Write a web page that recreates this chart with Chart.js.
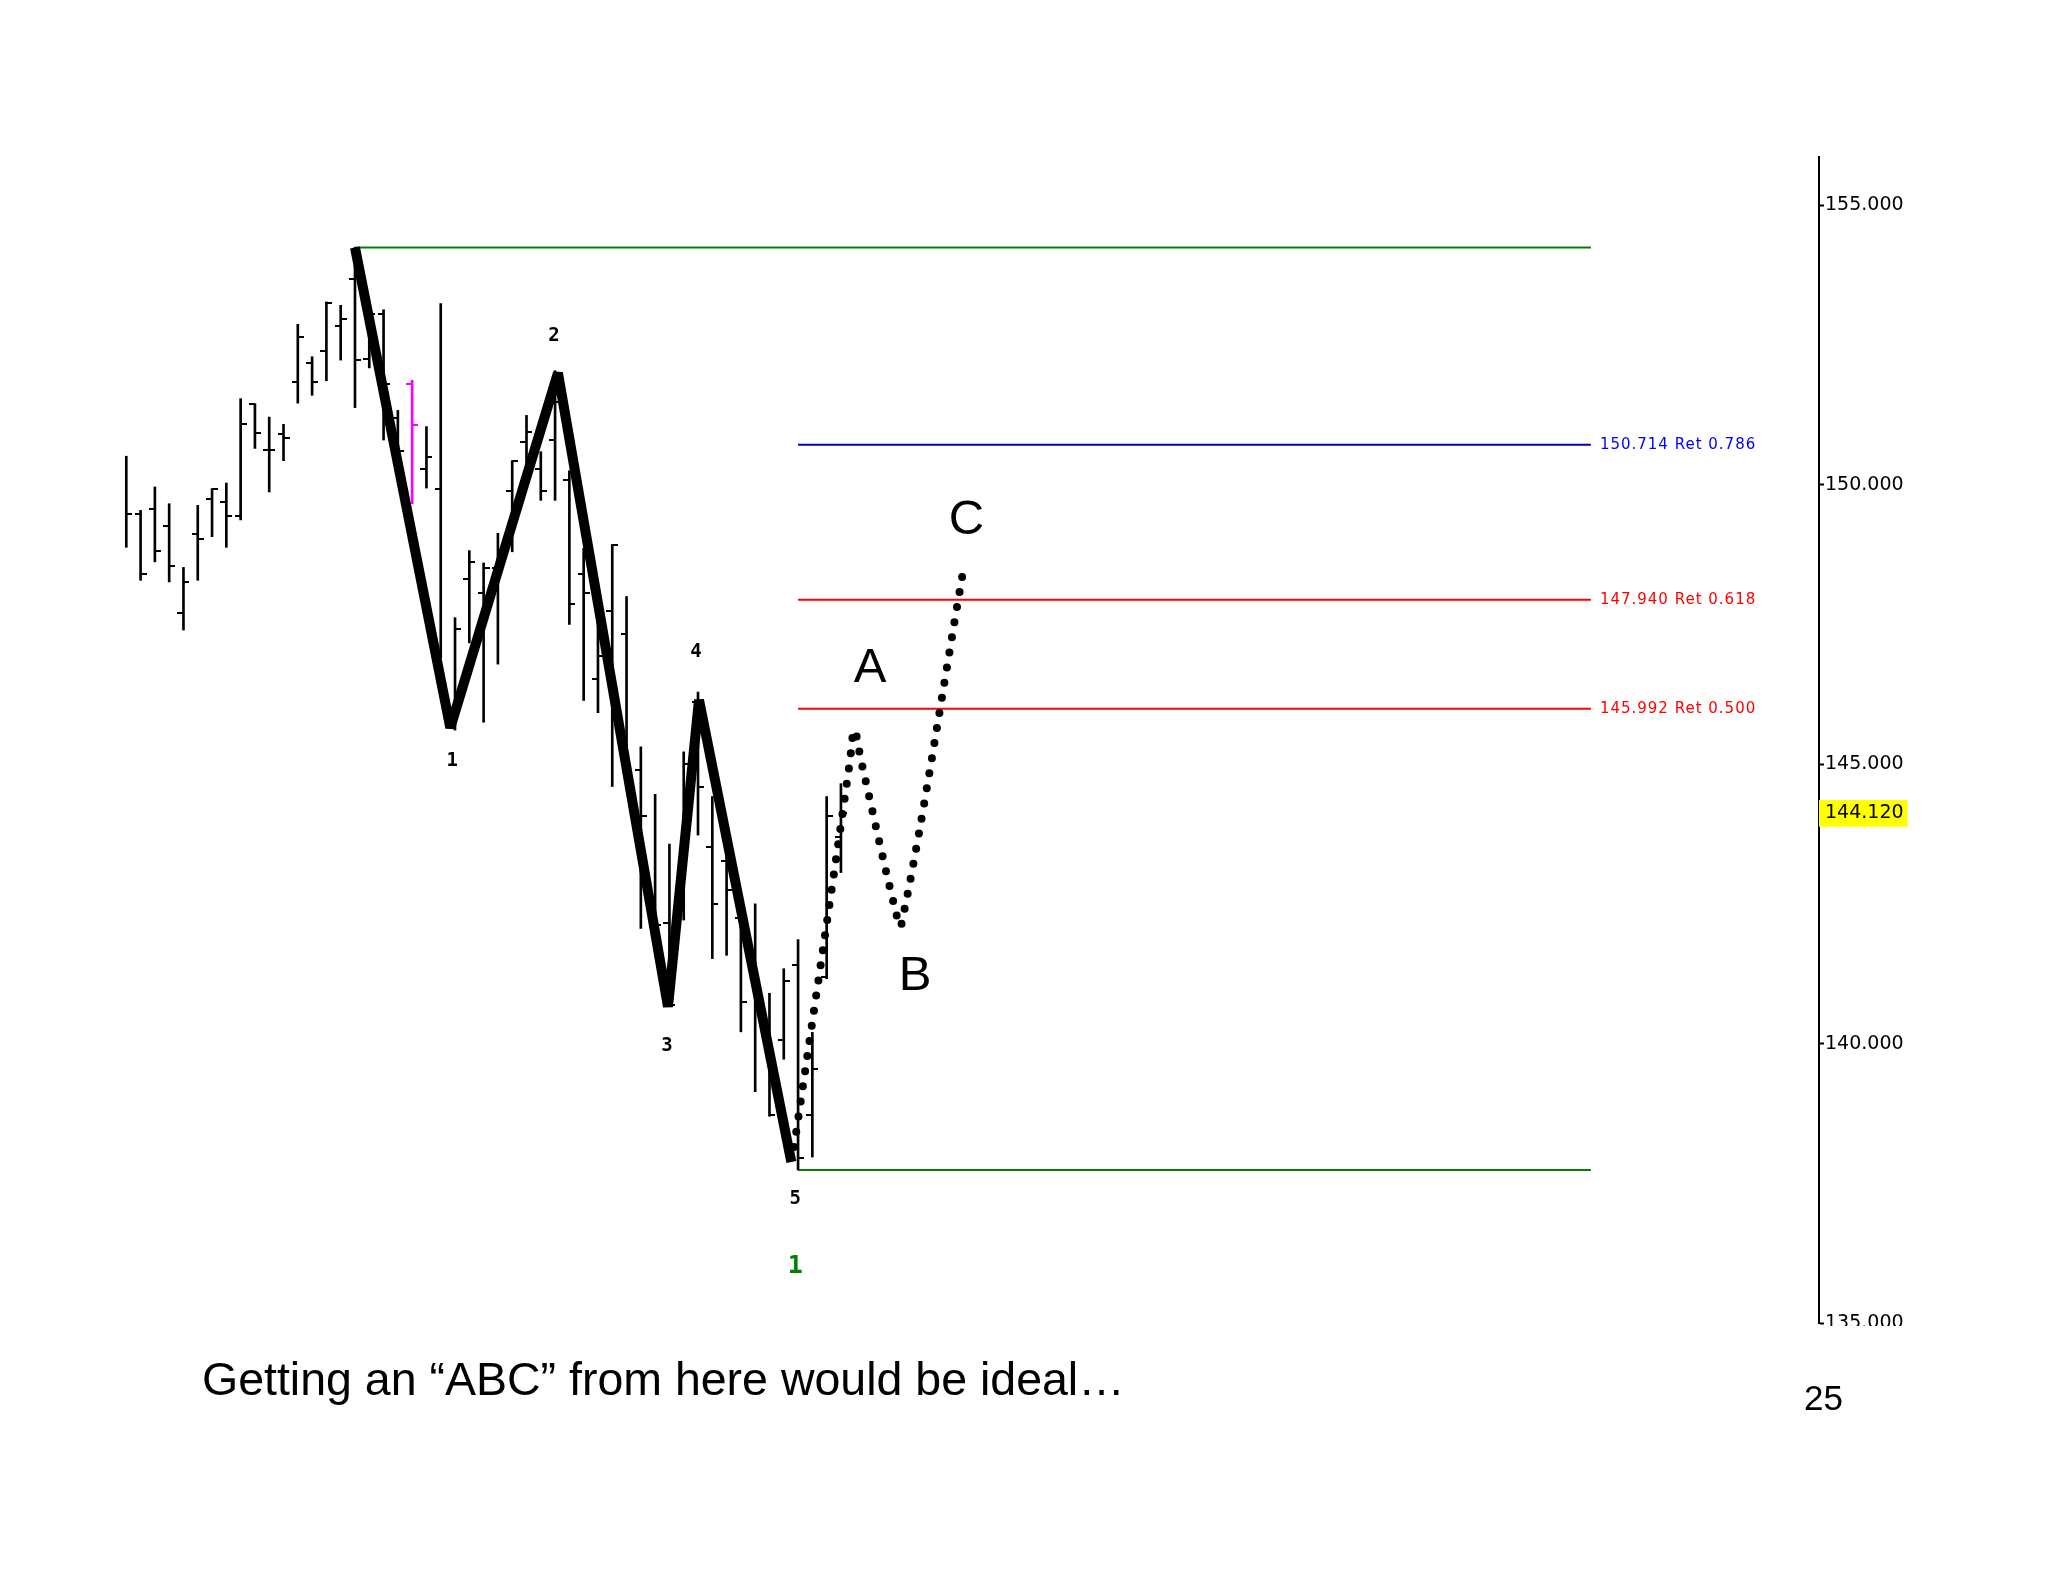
<!DOCTYPE html>
<html>
<head>
<meta charset="utf-8">
<script src="https://cdn.jsdelivr.net/npm/chart.js@4.4.0/dist/chart.umd.min.js"></script>
<style>
html,body{margin:0;padding:0;background:#ffffff;}
#wrap{position:relative;width:2048px;height:1582px;overflow:hidden;}
#c{position:absolute;left:0;top:0;}
#caption{position:absolute;left:202px;top:1356px;font-family:"Liberation Sans",Arial,sans-serif;font-size:46.5px;line-height:46px;color:#000;white-space:nowrap;}
#pageno{position:absolute;left:1804px;top:1380px;font-family:"Liberation Sans",Arial,sans-serif;font-size:35px;line-height:35px;color:#000;}
</style>
</head>
<body>
<div id="wrap">
<canvas id="c" width="2048" height="1582"></canvas>
<div id="caption">Getting an “ABC” from here would be ideal…</div>
<div id="pageno">25</div>
</div>
<script>
// ---- data ----
const highs  = [150.51,149.54,149.96,149.66,148.52,149.63,149.93,150.03,151.54,151.45,151.21,
                151.08,152.87,152.29,153.27,153.21,154.246,153.09,153.13,151.33,151.87,
                151.04,153.24,147.62,148.82,148.60,149.13,150.43,151.24,150.59,152.04,
                150.25,148.86,147.90,148.93,148.00,145.31,144.46,143.57,145.22,146.29,
                144.42,143.46,142.60,142.50,140.90,141.34,141.86,140.20,144.42,144.65];
const lows   = [148.88,148.29,148.62,148.26,147.40,148.29,149.07,148.88,149.37,150.65,149.87,
                150.43,151.46,151.60,151.86,152.23,151.38,152.09,150.80,150.45,149.66,
                149.94,146.90,145.61,147.17,145.75,146.79,148.80,150.20,149.72,149.72,
                147.50,146.14,145.92,144.60,144.55,142.06,142.05,140.66,142.21,143.73,
                141.52,141.58,140.21,139.14,138.70,139.72,137.738,137.97,141.16,143.06];
const opens  = [null,149.47,149.56,149.26,147.71,149.11,149.74,149.69,149.44,151.44,150.62,
                150.90,151.84,152.17,152.39,152.84,153.68,152.25,153.06,151.20,151.80,
                150.29,149.93,null,148.32,148.07,148.51,149.88,150.76,150.28,150.80,
                150.09,148.40,146.52,147.74,147.33,144.89,null,142.16,142.39,146.11,
                143.52,143.26,142.24,141.64,null,140.07,141.40,138.72,141.20,143.70];
const closes = [149.47,148.40,148.81,148.55,148.26,149.03,149.93,149.44,151.09,150.92,150.62,
                150.84,152.65,151.84,153.25,152.97,152.24,153.06,151.81,150.60,151.07,
                150.50,null,147.41,148.62,148.51,null,150.43,150.94,149.88,151.48,
                147.87,148.06,146.93,148.92,null,144.07,142.12,140.69,145.01,144.59,
                142.49,142.75,140.75,141.02,138.72,141.12,137.95,139.54,144.08,144.12];
const highlightBar = 20;            // magenta bar

// Elliott wave pivots (bar index, price)
const waveX = [16, 22.67, 30.2, 37.9, 40.07, 46.53];
const waveY = [154.246, 145.65, 152.00, 140.66, 146.15, 137.88];
const waveNames = ['', '1', '2', '3', '4', '5'];

// projected A-B-C path (dotted)
const projX = [46.72, 50.62, 50.92, 51.41, 53.83, 54.14, 54.42, 58.50];
const projY = [138.15, 145.04, 145.61, 145.06, 142.37, 142.09, 142.37, 148.38];
const projNames = {2: 'A', 5: 'B', 7: 'C'};

// range extremes and Fibonacci retracements
const swingHigh = 154.246, swingHighBar = 16;
const swingLow  = 137.738, swingLowBar  = 47;
const levelEndBar = 102.47;
const fibLevels = [150.714, 147.940, 145.992];
const fibRatios = ['0.786', '0.618', '0.500'];
const lastPrice = 144.12;
const yTicks = [135, 140, 145, 150, 155];

// ---- drawing ----
function tickImage(color, side) {
  const c = document.createElement('canvas');
  c.width = 12; c.height = 2;
  const g = c.getContext('2d');
  g.fillStyle = color;
  if (side === 'left') g.fillRect(0, 0, 6, 2); else g.fillRect(6, 0, 6, 2);
  return c;
}
const imgs = {
  openK: tickImage('#000000', 'left'), closeK: tickImage('#000000', 'right'),
  openM: tickImage('#ff00ff', 'left'), closeM: tickImage('#ff00ff', 'right')
};

const barData   = highs.map((h, i) => ({x: i, y: [lows[i], h]}));
const openData  = opens.map((v, i) => ({x: i, y: v})).filter(p => p.y !== null);
const closeData = closes.map((v, i) => ({x: i, y: v})).filter(p => p.y !== null);

const fibColors = ['#0000c0', '#ff0000', '#ff0000'];
const fibTextColors = ['#0000ff', '#ff0000', '#ff0000'];

const levelSets = [
  {data: [{x: swingHighBar, y: swingHigh}, {x: levelEndBar, y: swingHigh}], color: '#008000'},
  {data: [{x: swingLowBar, y: swingLow}, {x: levelEndBar, y: swingLow}], color: '#008000'}
].concat(fibLevels.map((lv, i) => ({data: [{x: swingLowBar, y: lv}, {x: levelEndBar, y: lv}], color: fibColors[i]})));

const datasets = [];
levelSets.forEach(s => datasets.push({
  type: 'line', data: s.data, borderColor: s.color, borderWidth: 2, pointRadius: 0, order: 10
}));
datasets.push({
  type: 'bar', data: barData, barThickness: 2, grouped: false, borderWidth: 0,
  backgroundColor: c => (c.raw && c.raw.x === highlightBar) ? '#ff00ff' : '#000000', order: 6
});
datasets.push({
  type: 'line', data: openData, showLine: false, pointRadius: 3, order: 5,
  pointStyle: c => (c.raw && c.raw.x === highlightBar) ? imgs.openM : imgs.openK
});
datasets.push({
  type: 'line', data: closeData, showLine: false, pointRadius: 3, order: 5,
  pointStyle: c => (c.raw && c.raw.x === highlightBar) ? imgs.closeM : imgs.closeK
});
datasets.push({
  type: 'line', data: waveX.map((x, i) => ({x, y: waveY[i]})), borderColor: '#000', borderWidth: 10,
  borderJoinStyle: 'bevel', borderCapStyle: 'butt', pointRadius: 0, tension: 0, order: 1
});
datasets.push({
  type: 'line', data: projX.map((x, i) => ({x, y: projY[i]})), borderColor: '#000', borderWidth: 8,
  borderDash: [0, 15.3], borderCapStyle: 'round', cubicInterpolationMode: 'monotone', pointRadius: 0, order: 0
});

const annotations = {
  id: 'annotations',
  afterDatasetsDraw(chart) {
    const {ctx, scales: {x, y}} = chart;
    ctx.save();
    // Fibonacci labels at the end of each line
    ctx.font = '15px "DejaVu Sans"';
    ctx.letterSpacing = '1px';
    ctx.textAlign = 'left';
    ctx.textBaseline = 'middle';
    fibLevels.forEach((lv, i) => {
      ctx.fillStyle = fibTextColors[i];
      ctx.fillText(lv.toFixed(3) + ' Ret ' + fibRatios[i], x.getPixelForValue(levelEndBar) + 9, y.getPixelForValue(lv));
    });
    ctx.letterSpacing = '0px';
    // wave numbers
    const waveOffsets = {1: [2, 33], 2: [-4, -37], 3: [-1, 39], 4: [-3, -48], 5: [4, 37]};
    ctx.font = 'bold 19px "DejaVu Sans Mono"';
    ctx.textAlign = 'center';
    ctx.fillStyle = '#000';
    waveNames.forEach((n, i) => {
      if (!n) return;
      const o = waveOffsets[i];
      ctx.fillText(n, x.getPixelForValue(waveX[i]) + o[0], y.getPixelForValue(waveY[i]) + o[1]);
    });
    // green degree label under wave 5
    ctx.font = 'bold 25px "DejaVu Sans Mono"';
    ctx.fillStyle = '#008000';
    ctx.fillText('1', x.getPixelForValue(waveX[5]) + 4, y.getPixelForValue(waveY[5]) + 104);
    // A B C
    const abcOffsets = {2: [16, -62], 5: [15, 50], 7: [4, -55]};
    ctx.font = '49px "Liberation Sans"';
    ctx.fillStyle = '#000';
    Object.keys(projNames).forEach(k => {
      const o = abcOffsets[k];
      ctx.fillText(projNames[k], x.getPixelForValue(projX[k]) + o[0], y.getPixelForValue(projY[k]) + o[1]);
    });
    ctx.restore();
  },
  afterDraw(chart) {
    // the axis is cut at the bottom of the plot, like the source picture
    const {ctx, chartArea} = chart;
    ctx.save();
    ctx.fillStyle = '#ffffff';
    ctx.fillRect(chartArea.right + 2, chartArea.bottom + 3, 140, 30);
    ctx.restore();
  }
};

new Chart(document.getElementById('c'), {
  type: 'line',
  data: {datasets},
  options: {
    responsive: false,
    animation: false,
    devicePixelRatio: 1,
    events: [],
    layout: {padding: {left: 112, right: 0, top: 157, bottom: 259}},
    plugins: {legend: {display: false}, tooltip: {enabled: false}},
    scales: {
      x: {type: 'linear', min: -1, max: 118.43, display: false, offset: false},
      y: {
        position: 'right', min: 135, max: 155.864,
        afterBuildTicks: s => { s.ticks = yTicks.concat([lastPrice]).map(v => ({value: v})); },
        afterFit: s => { s.width = 229; },
        ticks: {
          callback: v => Number(v).toFixed(3),
          color: '#000', padding: 1,
          font: {family: 'DejaVu Sans', size: 19},
          showLabelBackdrop: c => !!(c.tick && c.tick.value === lastPrice),
          backdropColor: '#ffff00',
          backdropPadding: {left: 7, right: 4, top: 2, bottom: 2}
        },
        grid: {
          drawOnChartArea: false, drawTicks: true, tickLength: 5, tickWidth: 2,
          tickColor: c => (c.tick && c.tick.value === lastPrice) ? 'rgba(0,0,0,0)' : '#000'
        },
        border: {display: true, color: '#000', width: 2}
      }
    }
  },
  plugins: [annotations]
});
</script>
</body>
</html>
